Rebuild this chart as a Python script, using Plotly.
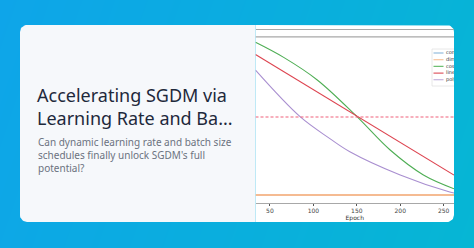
import numpy as np
import plotly.graph_objects as go

W, H = 474, 248

# ---------------- data ----------------
title_lines = ["Accelerating SGDM via", "Learning Rate and Ba..."]
subtitle_lines = ["Can dynamic learning rate and batch size",
                  "schedules finally unlock SGDM's full",
                  "potential?"]

epochs_const = [33.4, 261.9]
constant = [1.0, 1.0]
diminishing = [0.048, 0.048]

epochs_cos = [33.4, 65.8, 104.5, 150.2, 188.4, 226.7, 261.9]
cosine = [0.968, 0.877, 0.741, 0.520, 0.319, 0.169, 0.086]

epochs_lin = [33.4, 261.9]
linear = [0.895, 0.168]

epochs_poly = [33.4, 84.7, 119.0, 142.0, 200.0, 257.0, 261.9]
polynomial = [0.800, 0.520, 0.388, 0.309, 0.169, 0.066, 0.060]

threshold = 0.518
x_ticks = [50, 100, 150, 200, 250]
legend_names = ["constant", "diminishing", "cosine", "linear", "polynomial"]
legend_colors = ["#7fb0d8", "#f5b88a", "#6fbf73", "#e0606a", "#b9a3d6"]

# ---------------- layout constants ----------------
CARD = dict(x0=20, x1=454, y0=25, y1=222, r=7)
SPLIT = 255.5
CH = dict(left=255.5, right=454, top=30, bottom=203)
XR = [33.4, 261.9]
YR = [0.0, 1.042]


def px_to_x(px):
    return XR[0] + (px - CH["left"]) / (CH["right"] - CH["left"]) * (XR[1] - XR[0])


def py_to_y(py):
    return YR[0] + (CH["bottom"] - py) / (CH["bottom"] - CH["top"]) * (YR[1] - YR[0])


def rounded_rect(x0, x1, y0, y1, rtl, rtr, rbr, rbl, n=10):
    xs, ys = [], []

    def arc(cx, cy, r, a0, a1):
        for a in np.linspace(a0, a1, n):
            xs.append(cx + r * np.cos(a))
            ys.append(cy + r * np.sin(a))
    arc(x0 + rtl, y0 + rtl, rtl, np.pi, 1.5 * np.pi)
    arc(x1 - rtr, y0 + rtr, rtr, 1.5 * np.pi, 2 * np.pi)
    arc(x1 - rbr, y1 - rbr, rbr, 0, 0.5 * np.pi)
    arc(x0 + rbl, y1 - rbl, rbl, 0.5 * np.pi, np.pi)
    xs.append(xs[0]); ys.append(ys[0])
    return xs, ys


fig = go.Figure()

# gradient background
gx = np.linspace(0, W, 16)
gy = np.linspace(0, H, 8)
GX, GY = np.meshgrid(gx, gy)
Z = 0.85 * GX / W + 0.15 * GY / H
fig.add_trace(go.Heatmap(x=gx, y=gy, z=Z, zsmooth="best", showscale=False,
                         colorscale=[[0, "#0ea5e9"], [1, "#06b6d4"]],
                         hoverinfo="skip", xaxis="x", yaxis="y"))

# card: left (light) and right (white) parts
r = CARD["r"]
lx, ly = rounded_rect(CARD["x0"], SPLIT, CARD["y0"], CARD["y1"], r, 0.01, 0.01, r)
fig.add_trace(go.Scatter(x=lx, y=ly, fill="toself", fillcolor="#f6f8fb", mode="lines",
                         line=dict(width=0), hoverinfo="skip", showlegend=False,
                         xaxis="x", yaxis="y"))
rx, ry = rounded_rect(SPLIT, CARD["x1"], CARD["y0"], CARD["y1"], 0.01, r, r, 0.01)
fig.add_trace(go.Scatter(x=rx, y=ry, fill="toself", fillcolor="#ffffff", mode="lines",
                         line=dict(width=0), hoverinfo="skip", showlegend=False,
                         xaxis="x", yaxis="y"))

# ---------------- chart ----------------
def line(x, y, color, width=1.1, dash=None, shape="linear"):
    fig.add_trace(go.Scatter(x=x, y=y, mode="lines",
                             line=dict(color=color, width=width, dash=dash, shape=shape),
                             hoverinfo="skip", showlegend=False, xaxis="x2", yaxis="y2"))

line(epochs_const, constant, "#a8a8a8", 1.3)
line(epochs_const, diminishing, "#f2a46e", 1.4)
line(epochs_cos, cosine, "#4fae55", 1.1, shape="spline")
line(epochs_lin, linear, "#dd4450", 1.1)
line(epochs_poly, polynomial, "#a98fd0", 1.1, shape="spline")
line(XR, [threshold, threshold], "#f0607a", 1.1, dash="3px,2px")

# legend (clipped by the chart edge, as in the picture)
lg_left, lg_top, lg_bot = 432, 49, 86
bx = [px_to_x(lg_left), px_to_x(470), px_to_x(470), px_to_x(lg_left), px_to_x(lg_left)]
by = [py_to_y(lg_top), py_to_y(lg_top), py_to_y(lg_bot), py_to_y(lg_bot), py_to_y(lg_top)]
fig.add_trace(go.Scatter(x=bx, y=by, mode="lines", fill="toself", fillcolor="rgba(255,255,255,0.9)",
                         line=dict(color="#e2e2e2", width=0.8), hoverinfo="skip",
                         showlegend=False, xaxis="x2", yaxis="y2"))
entry_py = [53, 59.7, 66.4, 73.1, 79.8]
for name, col, py in zip(legend_names, legend_colors, entry_py):
    fig.add_trace(go.Scatter(x=[px_to_x(433.5), px_to_x(443.5)], y=[py_to_y(py)] * 2,
                             mode="lines", line=dict(color=col, width=1.1),
                             hoverinfo="skip", showlegend=False, xaxis="x2", yaxis="y2"))
fig.add_trace(go.Scatter(x=[px_to_x(446)] * len(legend_names), y=[py_to_y(p) for p in entry_py],
                         mode="text", text=legend_names, textposition="middle right",
                         textfont=dict(size=5, color="#333333", family="DejaVu Sans"),
                         cliponaxis=True, hoverinfo="skip", showlegend=False,
                         xaxis="x2", yaxis="y2"))

# ---------------- text ----------------
ann = [
    dict(x=35, y=106, xref="x", yref="y", text="<br>".join(title_lines), showarrow=False,
         xanchor="left", yanchor="middle", align="left",
         font=dict(family="Noto Sans", size=18, color="#1e293b")),
    dict(x=35.5, y=155, xref="x", yref="y", text="<br>".join(subtitle_lines), showarrow=False,
         xanchor="left", yanchor="middle", align="left",
         font=dict(family="Noto Sans", size=10, color="#6b7280")),
]

fig.update_layout(
    width=W, height=H, margin=dict(l=0, r=0, t=0, b=0),
    paper_bgcolor="#0ea5e9", plot_bgcolor="rgba(0,0,0,0)",
    showlegend=False, annotations=ann,
    xaxis=dict(domain=[0, 1], range=[0, W], visible=False, fixedrange=True),
    yaxis=dict(domain=[0, 1], range=[H, 0], visible=False, fixedrange=True),
    xaxis2=dict(domain=[CH["left"] / W, CH["right"] / W], range=XR, anchor="y2",
                showline=True, linecolor="#a8a8a8", linewidth=1.4, mirror=True,
                ticks="outside", ticklen=2, tickwidth=0.8, tickcolor="#555",
                tickvals=x_ticks, tickfont=dict(size=6, color="#444", family="DejaVu Sans"),
                title=dict(text="Epoch", font=dict(size=6, color="#333", family="DejaVu Sans"),
                           standoff=1),
                showgrid=False, zeroline=False, fixedrange=True),
    yaxis2=dict(domain=[1 - CH["bottom"] / H, 1 - CH["top"] / H], range=YR, anchor="x2",
                showline=False, showticklabels=False, ticks="", showgrid=False,
                zeroline=False, fixedrange=True),
)

fig.write_html("out.html")
